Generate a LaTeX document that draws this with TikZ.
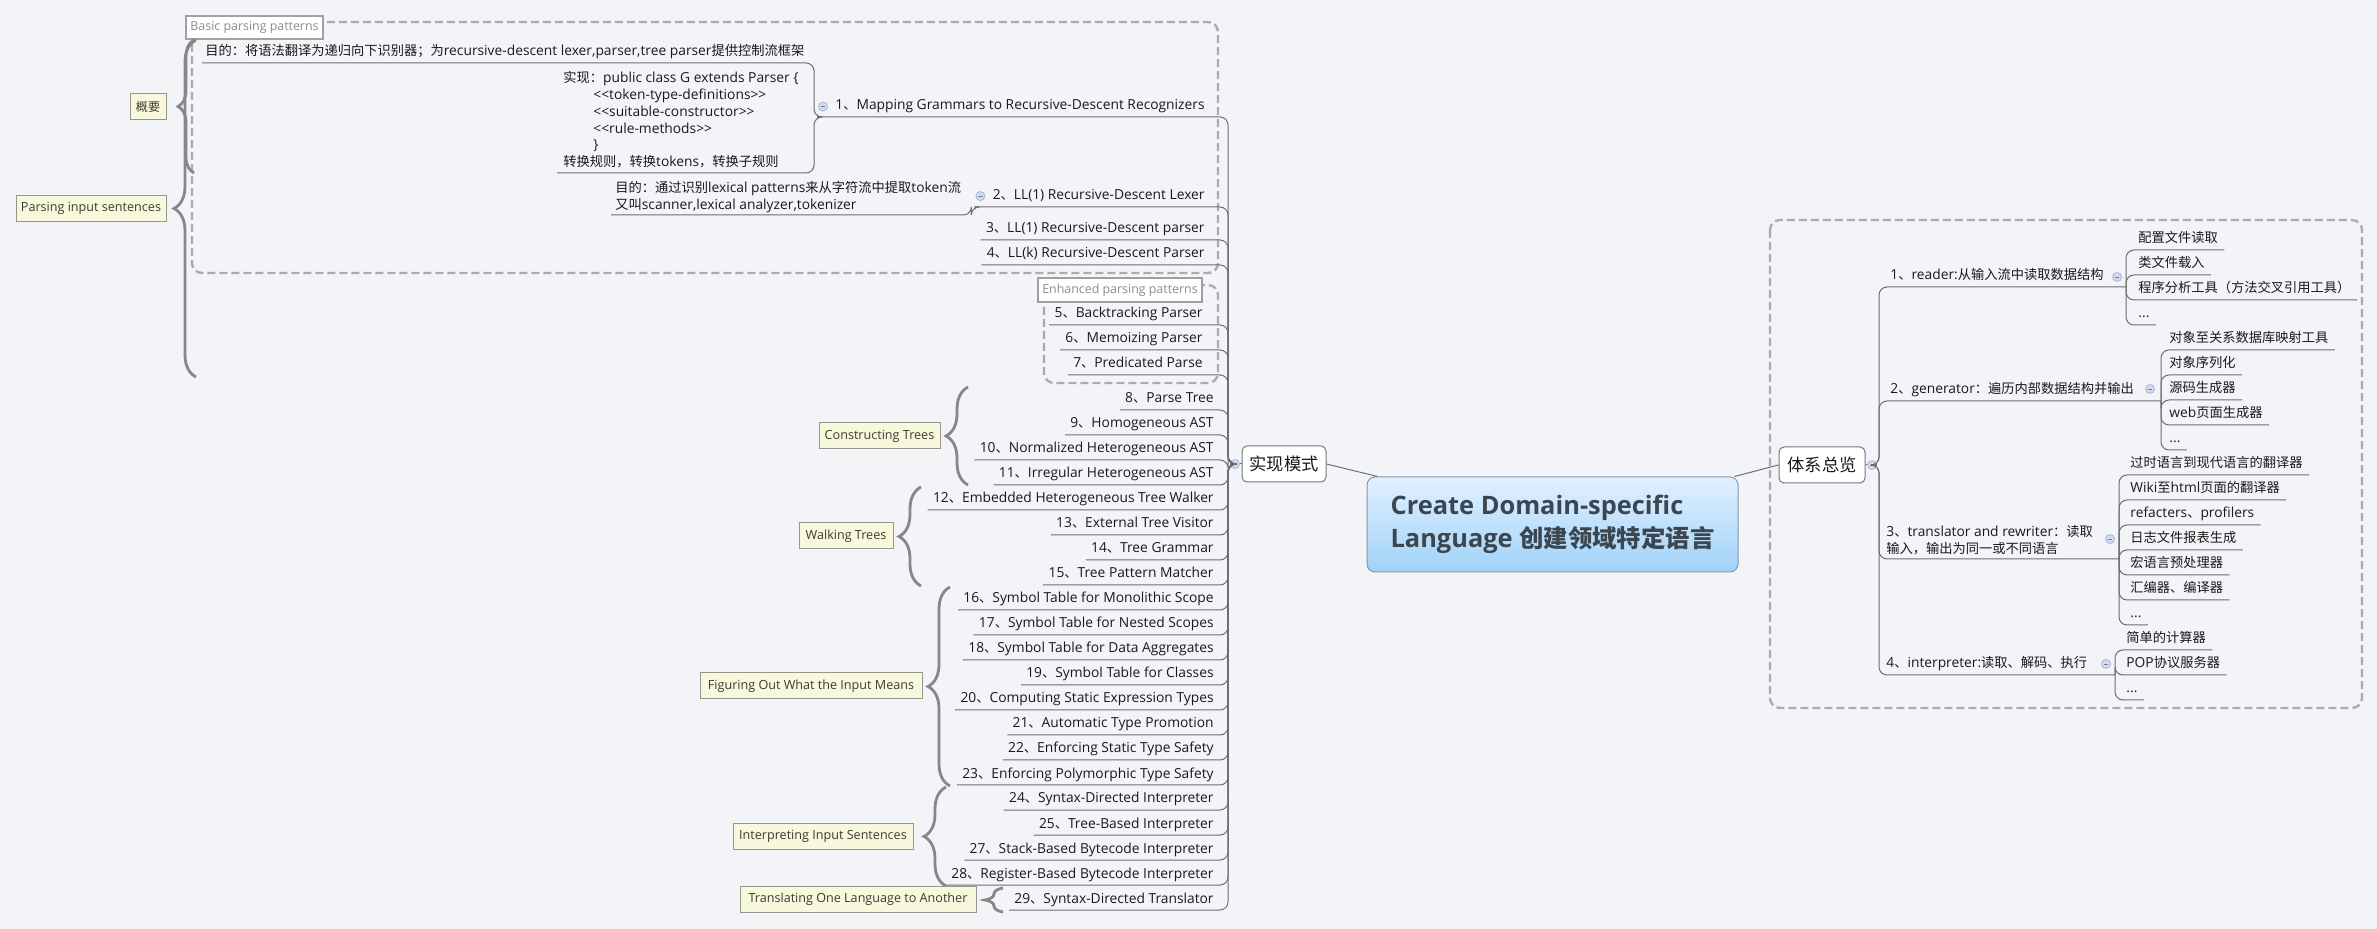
\documentclass[tikz,border=0pt]{standalone}
\usepackage{fontspec}
\setmainfont{Open Sans}
\newfontfamily\latf{Open Sans}
\newfontfamily\cjkf{Noto Sans CJK SC}[Scale=0.96]
\usetikzlibrary{decorations.pathreplacing}
\XeTeXinterchartokenstate=1
\chardef\cjkcls=7
\newcount\mycjkcnt
\mycjkcnt="3000 \loop\XeTeXcharclass\mycjkcnt=\cjkcls \advance\mycjkcnt by 1 \ifnum\mycjkcnt<"3040 \repeat
\mycjkcnt="4E00 \loop\XeTeXcharclass\mycjkcnt=\cjkcls \advance\mycjkcnt by 1 \ifnum\mycjkcnt<"A000 \repeat
\mycjkcnt="FF00 \loop\XeTeXcharclass\mycjkcnt=\cjkcls \advance\mycjkcnt by 1 \ifnum\mycjkcnt<"FFF0 \repeat
\XeTeXinterchartoks 0 \cjkcls = {\cjkf}
\XeTeXinterchartoks 4095 \cjkcls = {\cjkf}
\XeTeXinterchartoks \cjkcls 0 = {\latf}
\XeTeXinterchartoks \cjkcls 4095 = {\latf}
\definecolor{bg}{RGB}{243,244,248}
\definecolor{linec}{RGB}{110,110,110}
\definecolor{dashc}{RGB}{172,172,172}
\definecolor{bracec}{RGB}{135,135,135}
\definecolor{sumfill}{RGB}{248,248,220}
\definecolor{sumdraw}{RGB}{150,150,140}
\definecolor{sumtext}{RGB}{60,60,50}
\definecolor{lblc}{RGB}{140,140,140}
\definecolor{lblb}{RGB}{160,160,160}
\definecolor{mkfill}{RGB}{210,220,238}
\definecolor{mkdraw}{RGB}{165,182,212}
\definecolor{titlec}{RGB}{60,70,80}
\definecolor{ctop}{RGB}{225,240,255}
\definecolor{cbot}{RGB}{160,210,248}
\definecolor{cdraw}{RGB}{135,150,168}
\definecolor{topicb}{RGB}{120,120,120}
\definecolor{txt}{RGB}{25,25,25}
\tikzset{
 itm/.style={inner sep=0pt, text=txt, font={\fontsize{6.9}{8.4}\selectfont}},
 conn/.style={draw=linec, line width=0.5pt, rounded corners=4pt},
 clps/.style={circle, draw=mkdraw, fill=mkfill, line width=0.4pt, minimum size=4.5pt, inner sep=0pt,
   path picture={\draw[mkdraw!70!black, line width=0.4pt] ([xshift=-1.2pt]path picture bounding box.center) -- ([xshift=1.2pt]path picture bounding box.center);}},
 dashbox/.style={draw=dashc, line width=1.2pt, dash pattern=on 4pt off 2pt, rounded corners=5pt},
 lbl/.style={draw=lblb, fill=white, line width=1.1pt, text=lblc, inner sep=0pt, font={\fontsize{6.2}{7.5}\selectfont}},
 summ/.style={draw=sumdraw, fill=sumfill, line width=0.5pt, text=sumtext, inner sep=0pt, minimum height=13pt, font={\fontsize{6.3}{7.5}\selectfont}},
 brc/.style={draw=bracec, line width=1.4pt, decorate, decoration={brace, amplitude=11pt}},
 topic/.style={draw=topicb, fill=white, rounded corners=2.5pt, line width=0.5pt, inner sep=0pt, minimum height=18pt, font={\fontsize{9}{11}\selectfont}, text=txt},
 central/.style={draw=cdraw, top color=ctop, bottom color=cbot, rounded corners=4pt, line width=0.5pt, minimum width=185.5pt, minimum height=47.5pt, align=left, text=titlec, inner sep=0pt, font={\fontsize{12.7}{16.5}\selectfont\bfseries}}
}
% left item: name, text right x, underline y, text
\newcommand\litem[4]{%
  \node[itm, anchor=base east] (#1) at (#2,#3-7) {#4};
  \coordinate (#1-a) at ([xshift=-2.5pt]#1.west);
  \coordinate (#1-l) at (#1-a |- 0,#3);
  \draw[conn] (#1-l) -- (1228,#3) -- (1228,464) -- (implm);
}
% left item with collapse marker
\newcommand\litemm[4]{%
  \node[itm, anchor=base east] (#1) at (#2,#3-7) {#4};
  \node[clps] (#1-m) at ([xshift=-6pt]#1.west) {};
  \coordinate (#1-a) at ([xshift=-9pt]#1.west);
  \coordinate (#1-l) at (#1-a |- 0,#3);
  \draw[conn] (#1-l) -- (1228,#3) -- (1228,464) -- (implm);
}
% right leaf: name, parent coordinate, text left x, underline y, text
\newcommand\ritem[5]{%
  \node[itm, anchor=base west] (#1) at (#3,#4-7) {#5};
  \coordinate (#1-a) at ([xshift=3pt]#1.east);
  \coordinate (#1-r) at (#1-a |- 0,#4);
  \draw[conn] (#2) |- (#1-r);
}
\begin{document}
\begin{tikzpicture}[x=0.5pt,y=-0.5pt]
\useasboundingbox (0,0) rectangle (2377,929);
\fill[bg] (0,0) rectangle (2377,929);

% dashed group boxes
\draw[dashbox] (192,22) rectangle (1218,273);
\draw[dashbox] (1044,285) rectangle (1218,383);
\draw[dashbox] (1770,220) rectangle (2362,708);

% central topic and main topics
\node[topic, minimum width=42pt] (impl) at (1284,464) {实现模式};
\node[clps] (implm) at (1235,464) {};
\draw[conn] (implm) -- (impl);
\node[topic, minimum width=43pt] (sys) at (1822,465) {体系总览};
\node[clps] (sysm) at (1872,465) {};
\draw[conn] (sys) -- (sysm);
\node[central] (root) at (1552.5,524.5) {Create Domain-specific\\Language 创建领域特定语言};
\draw[conn] (impl.east) -- ([xshift=5.5pt]root.north west);
\draw[conn] ([xshift=-2pt]root.north east) -- (sys.west);

% left items
\litemm{i1}{1205}{117}{1、Mapping Grammars to Recursive-Descent Recognizers}
\litemm{i2}{1205}{207}{2、LL(1) Recursive-Descent Lexer}
\litem{i3}{1205}{240}{3、LL(1) Recursive-Descent parser}
\litem{i4}{1205}{265}{4、LL(k) Recursive-Descent Parser}
\litem{i5}{1203}{325}{5、Backtracking Parser}
\litem{i6}{1203}{350}{6、Memoizing Parser}
\litem{i7}{1203}{375}{7、Predicated Parse}
\litem{i8}{1214}{410}{8、Parse Tree}
\litem{i9}{1214}{435}{9、Homogeneous AST}
\litem{i10}{1214}{460}{10、Normalized Heterogeneous AST}
\litem{i11}{1214}{485}{11、Irregular Heterogeneous AST}
\litem{i12}{1214}{510}{12、Embedded Heterogeneous Tree Walker}
\litem{i13}{1214}{535}{13、External Tree Visitor}
\litem{i14}{1214}{560}{14、Tree Grammar}
\litem{i15}{1214}{585}{15、Tree Pattern Matcher}
\litem{i16}{1214}{610}{16、Symbol Table for Monolithic Scope}
\litem{i17}{1214}{635}{17、Symbol Table for Nested Scopes}
\litem{i18}{1214}{660}{18、Symbol Table for Data Aggregates}
\litem{i19}{1214}{685}{19、Symbol Table for Classes}
\litem{i20}{1214}{710}{20、Computing Static Expression Types}
\litem{i21}{1214}{735}{21、Automatic Type Promotion}
\litem{i22}{1214}{760}{22、Enforcing Static Type Safety}
\litem{i23}{1214}{785}{23、Enforcing Polymorphic Type Safety}
\litem{i24}{1214}{810}{24、Syntax-Directed Interpreter}
\litem{i25}{1214}{835}{25、Tree-Based Interpreter}
\litem{i27}{1214}{860}{27、Stack-Based Bytecode Interpreter}
\litem{i28}{1214}{885}{28、Register-Based Bytecode Interpreter}
\litem{i29}{1214}{910}{29、Syntax-Directed Translator}

% children of item 1 and 2
\node[itm, anchor=base west] (c1) at (205,56) {目的：将语法翻译为递归向下识别器；为recursive-descent lexer,parser,tree parser提供控制流框架};
\coordinate (c1-l) at (202,63);
\draw[conn] (i1-l) -- ++(-3,0) |- (c1-l);
\node[itm, anchor=north west, align=left] (c2) at (563,71) {实现：public class G extends Parser \{\\
\hspace*{15pt}<{}<token-type-definitions>{}>\\
\hspace*{15pt}<{}<suitable-constructor>{}>\\
\hspace*{15pt}<{}<rule-methods>{}>\\
\hspace*{15pt}\}\\
转换规则，转换tokens，转换子规则};
\coordinate (c2-l) at (557,173);
\draw[conn] (i1-l) -- ++(-3,0) |- (c2-l);
\node[itm, anchor=north west, align=left] (c3) at (615,181) {目的：通过识别lexical patterns来从字符流中提取token流\\又叫scanner,lexical analyzer,tokenizer};
\coordinate (c3-l) at (611,215);
\draw[conn] (i2-l) -- ++(-3,0) |- (c3-l);

% group labels
\node[lbl, minimum width=68.5pt, minimum height=11.5pt] (basic) at (254.5,27.5) {Basic parsing patterns};
\node[lbl, minimum width=82pt, minimum height=12pt] (enh) at (1120,290) {Enhanced parsing patterns};

% summaries
\draw[brc] (196,377) -- (196,40);
\draw[brc, decoration={amplitude=8pt}] (194,173) -- (194,40);
\node[summ, minimum width=75pt] (sPars) at (91,208.5) {Parsing input sentences};
\node[summ, minimum width=18pt] (sGai) at (148,107) {概要};
\draw[brc] (968,485) -- (968,387);
\node[summ, minimum width=60.5pt] (sCon) at (879.5,436) {Constructing Trees};
\draw[brc] (921,586) -- (921,487);
\node[summ, minimum width=47pt] (sWalk) at (846,536) {Walking Trees};
\draw[brc] (950,786) -- (950,587);
\node[summ, minimum width=111pt] (sFig) at (811,686) {Figuring Out What the Input Means};
\draw[brc] (946,886) -- (946,787);
\node[summ, minimum width=90pt] (sInt) at (823,836) {Interpreting Input Sentences};
\draw[brc, decoration={amplitude=9pt}] (1003,912) -- (1003,888);
\node[summ, minimum width=118pt] (sTra) at (858,899.5) {Translating One Language to Another};

% right branches
\node[itm, anchor=base west] (r1) at (1890,280) {1、reader:从输入流中读取数据结构};
\coordinate (r1-e) at (2126,287);
\node[clps] (r1-m) at (2117,277) {};
\draw[conn] (sysm) -- (1879,465) |- (r1-e);
\node[itm, anchor=base west] (r2) at (1890,394) {2、generator：遍历内部数据结构并输出};
\coordinate (r2-e) at (2161,401);
\node[clps] (r2-m) at (2150,389) {};
\draw[conn] (sysm) -- (1879,465) |- (r2-e);
\node[itm, anchor=north west, align=left] (r3) at (1886,525) {3、translator and rewriter：读取\\输入，输出为同一或不同语言};
\coordinate (r3-e) at (2119,559);
\node[clps] (r3-m) at (2110,539) {};
\draw[conn] (sysm) -- (1879,465) |- (r3-e);
\node[itm, anchor=base west] (r4) at (1886,668) {4、interpreter:读取、解码、执行};
\coordinate (r4-e) at (2115,675);
\node[clps] (r4-m) at (2106,664) {};
\draw[conn] (sysm) -- (1879,465) |- (r4-e);

\ritem{a1}{r1-e}{2138}{250}{配置文件读取}
\ritem{a2}{r1-e}{2138}{275}{类文件载入}
\ritem{a3}{r1-e}{2138}{300}{程序分析工具（方法交叉引用工具）}
\ritem{a4}{r1-e}{2138}{325}{...}
\ritem{b1}{r2-e}{2169}{350}{对象至关系数据库映射工具}
\ritem{b2}{r2-e}{2169}{375}{对象序列化}
\ritem{b3}{r2-e}{2169}{400}{源码生成器}
\ritem{b4}{r2-e}{2169}{425}{web页面生成器}
\ritem{b5}{r2-e}{2169}{450}{...}
\ritem{t1}{r3-e}{2130}{475}{过时语言到现代语言的翻译器}
\ritem{t2}{r3-e}{2130}{500}{Wiki至html页面的翻译器}
\ritem{t3}{r3-e}{2130}{525}{refacters、profilers}
\ritem{t4}{r3-e}{2130}{550}{日志文件报表生成}
\ritem{t5}{r3-e}{2130}{575}{宏语言预处理器}
\ritem{t6}{r3-e}{2130}{600}{汇编器、编译器}
\ritem{t7}{r3-e}{2130}{625}{...}
\ritem{d1}{r4-e}{2126}{650}{简单的计算器}
\ritem{d2}{r4-e}{2126}{675}{POP协议服务器}
\ritem{d3}{r4-e}{2126}{700}{...}
\end{tikzpicture}
\end{document}
